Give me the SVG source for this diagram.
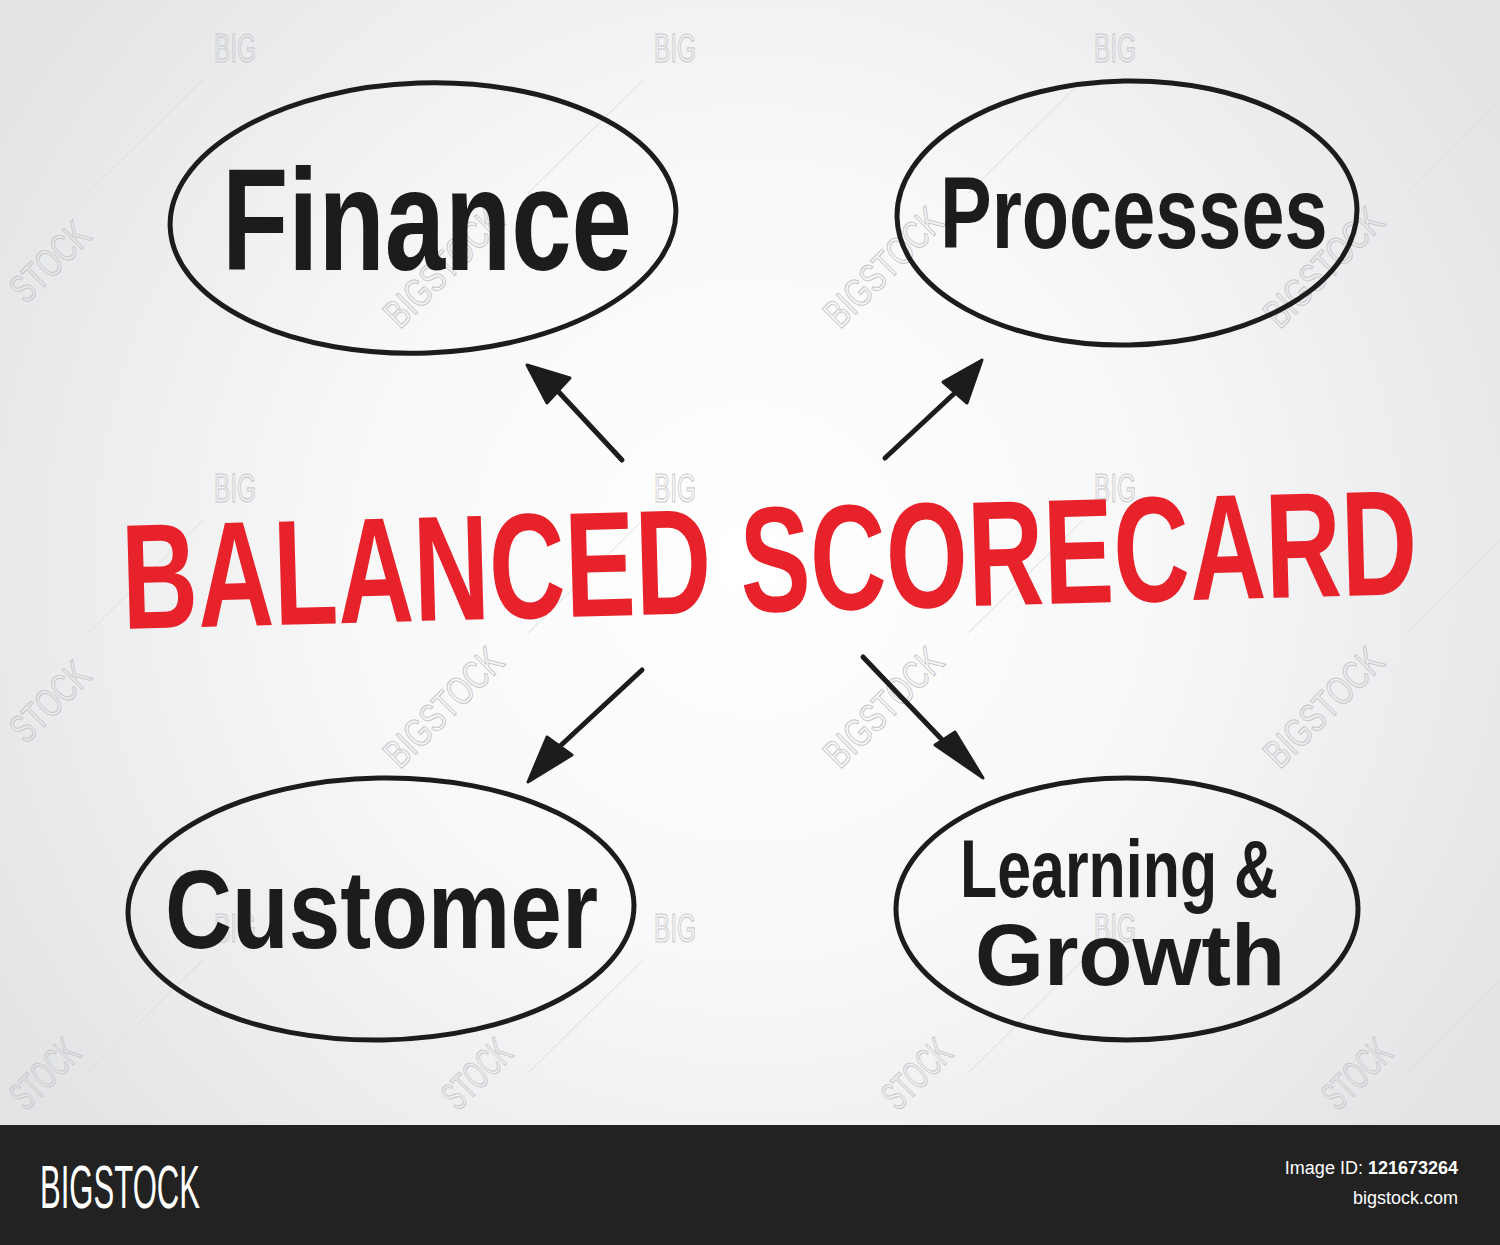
<svg xmlns="http://www.w3.org/2000/svg" width="1500" height="1245" viewBox="0 0 1500 1245">
<defs>
<radialGradient id="bg" cx="750" cy="560" r="900" gradientUnits="userSpaceOnUse">
<stop offset="0" stop-color="#ffffff"/>
<stop offset="0.45" stop-color="#f8f8f9"/>
<stop offset="1" stop-color="#e2e3e5"/>
</radialGradient>
<style>
.oval{fill:none;stroke:#1c1c1c;stroke-width:5}
.lbl{font-family:"Liberation Sans","DejaVu Sans",sans-serif;font-weight:bold;fill:#1c1c1c}
.title{font-family:"Liberation Sans","DejaVu Sans",sans-serif;font-weight:bold;fill:#e8222b}
.wm{font-family:"Liberation Sans Narrow","Liberation Sans",sans-serif;fill:none;stroke:#c9cacc;stroke-width:1.2;font-size:40px}
.wml{stroke:#dcdcde;stroke-width:1}
.shaft{stroke:#1c1c1c;stroke-width:5;stroke-linecap:round}
.head{fill:#1c1c1c;stroke:#1c1c1c;stroke-width:3;stroke-linejoin:round}
.foot{font-family:"Liberation Sans","DejaVu Sans",sans-serif;fill:#ffffff}
</style>
</defs>
<rect x="0" y="0" width="1500" height="1245" fill="url(#bg)"/>

<g id="watermarks">
<g class="wml">
<line x1="88" y1="193" x2="203" y2="80"/>
<line x1="528" y1="193" x2="643" y2="80"/>
<line x1="968" y1="193" x2="1083" y2="80"/>
<line x1="1408" y1="193" x2="1500" y2="100"/>
<line x1="88" y1="633" x2="203" y2="520"/>
<line x1="528" y1="633" x2="643" y2="520"/>
<line x1="968" y1="633" x2="1083" y2="520"/>
<line x1="1408" y1="633" x2="1500" y2="540"/>
<line x1="88" y1="1073" x2="203" y2="960"/>
<line x1="528" y1="1073" x2="643" y2="960"/>
<line x1="968" y1="1073" x2="1083" y2="960"/>
<line x1="1408" y1="1073" x2="1500" y2="980"/>
</g>
<g class="wm">
<text x="214" y="62" textLength="42" lengthAdjust="spacingAndGlyphs">BIG</text>
<text x="654" y="62" textLength="42" lengthAdjust="spacingAndGlyphs">BIG</text>
<text x="1094" y="62" textLength="42" lengthAdjust="spacingAndGlyphs">BIG</text>
<text x="214" y="502" textLength="42" lengthAdjust="spacingAndGlyphs">BIG</text>
<text x="654" y="502" textLength="42" lengthAdjust="spacingAndGlyphs">BIG</text>
<text x="1094" y="502" textLength="42" lengthAdjust="spacingAndGlyphs">BIG</text>
<text x="214" y="942" textLength="42" lengthAdjust="spacingAndGlyphs">BIG</text>
<text x="654" y="942" textLength="42" lengthAdjust="spacingAndGlyphs">BIG</text>
<text x="1094" y="942" textLength="42" lengthAdjust="spacingAndGlyphs">BIG</text>
<text transform="translate(400,330) rotate(-45)" textLength="150" lengthAdjust="spacingAndGlyphs">BIGSTOCK</text>
<text transform="translate(840,330) rotate(-45)" textLength="150" lengthAdjust="spacingAndGlyphs">BIGSTOCK</text>
<text transform="translate(1280,330) rotate(-45)" textLength="150" lengthAdjust="spacingAndGlyphs">BIGSTOCK</text>
<text transform="translate(26,305) rotate(-45)" textLength="95" lengthAdjust="spacingAndGlyphs">STOCK</text>
<text transform="translate(400,770) rotate(-45)" textLength="150" lengthAdjust="spacingAndGlyphs">BIGSTOCK</text>
<text transform="translate(840,770) rotate(-45)" textLength="150" lengthAdjust="spacingAndGlyphs">BIGSTOCK</text>
<text transform="translate(1280,770) rotate(-45)" textLength="150" lengthAdjust="spacingAndGlyphs">BIGSTOCK</text>
<text transform="translate(26,745) rotate(-45)" textLength="95" lengthAdjust="spacingAndGlyphs">STOCK</text>
<text transform="translate(26,1112) rotate(-45)" textLength="80" lengthAdjust="spacingAndGlyphs">STOCK</text>
<text transform="translate(458,1112) rotate(-45)" textLength="80" lengthAdjust="spacingAndGlyphs">STOCK</text>
<text transform="translate(898,1112) rotate(-45)" textLength="80" lengthAdjust="spacingAndGlyphs">STOCK</text>
<text transform="translate(1338,1112) rotate(-45)" textLength="80" lengthAdjust="spacingAndGlyphs">STOCK</text>
</g>
</g>

<g id="node-center">
<text class="title" transform="translate(123,629) rotate(-1.55) scale(0.7,1)" x="0" y="0" font-size="150" textLength="1851" lengthAdjust="spacingAndGlyphs">BALANCED SCORECARD</text>
</g>

<g id="node-finance">
<ellipse class="oval" cx="423" cy="218" rx="253" ry="135" transform="rotate(-2 423 218)"/>
<text class="lbl" transform="translate(222,270) scale(0.748,1)" x="0" y="0" font-size="145" textLength="548" lengthAdjust="spacingAndGlyphs">Finance</text>
</g>

<g id="node-processes">
<ellipse class="oval" cx="1127" cy="213" rx="230" ry="132" transform="rotate(-1 1127 213)"/>
<text class="lbl" transform="translate(940,248) scale(0.76,1)" x="0" y="0" font-size="102" textLength="510" lengthAdjust="spacingAndGlyphs">Processes</text>
</g>

<g id="node-customer">
<ellipse class="oval" cx="381" cy="909" rx="253" ry="131" transform="rotate(-1 381 909)"/>
<text class="lbl" transform="translate(165,948) scale(0.828,1)" x="0" y="0" font-size="112" textLength="523" lengthAdjust="spacingAndGlyphs">Customer</text>
</g>

<g id="node-learning">
<ellipse class="oval" cx="1127" cy="909" rx="231" ry="131"/>
<text class="lbl" transform="translate(960,897) scale(0.743,1)" x="0" y="0" font-size="82" textLength="428" lengthAdjust="spacingAndGlyphs">Learning &amp;</text>
<text class="lbl" x="975" y="985" font-size="88" textLength="310" lengthAdjust="spacingAndGlyphs">Growth</text>
</g>

<g id="connectors">
<line class="shaft" x1="622" y1="460" x2="555" y2="388"/>
<polygon class="head" points="527,365 570,378 547,403"/>
<line class="shaft" x1="885" y1="458" x2="958" y2="390"/>
<polygon class="head" points="982,360 943,382 967,403"/>
<line class="shaft" x1="642" y1="670" x2="558" y2="748"/>
<polygon class="head" points="528,782 547,737 572,755"/>
<line class="shaft" x1="863" y1="657" x2="950" y2="748"/>
<polygon class="head" points="983,778 935,745 955,732"/>
</g>

<g id="footer">
<rect x="0" y="1125" width="1500" height="120" fill="#222222"/>
<text class="foot" x="40" y="1208" font-size="62" textLength="160" lengthAdjust="spacingAndGlyphs" font-family="Liberation Sans Narrow, Liberation Sans, sans-serif">BIGSTOCK</text>
<text class="foot" x="1458" y="1174" font-size="18" text-anchor="end">Image ID: <tspan font-weight="bold">121673264</tspan></text>
<text class="foot" x="1458" y="1204" font-size="18" text-anchor="end">bigstock.com</text>
</g>
</svg>
